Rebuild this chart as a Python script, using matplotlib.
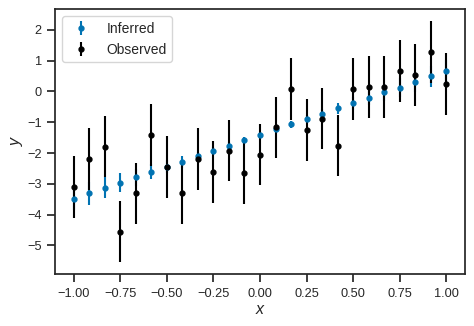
import numpy as np
import matplotlib
matplotlib.use("Agg")
import matplotlib.pyplot as plt
import seaborn as sns

# values
x = np.linspace(-1, 1, 25)

y_inferred = [-3.48, -3.31, -3.12, -2.96, -2.79, -2.61, -2.45, -2.28, -2.11,
              -1.93, -1.76, -1.58, -1.41, -1.23, -1.07, -0.90, -0.72, -0.55,
              -0.39, -0.21, -0.03, 0.12, 0.31, 0.49, 0.65]
err_inferred = [0.37, 0.36, 0.33, 0.32, 0.28, 0.24, 0.21, 0.19, 0.16, 0.14,
                0.12, 0.11, 0.10, 0.11, 0.12, 0.14, 0.16, 0.19, 0.21, 0.24,
                0.27, 0.30, 0.32, 0.33, 0.36]

y_observed = [-3.11, -2.19, -1.79, -4.55, -3.31, -1.41, -2.46, -3.29, -2.19,
              -2.61, -1.92, -2.64, -2.05, -1.17, 0.07, -1.26, -0.88, -1.76,
              0.07, 0.14, 0.14, 0.66, 0.54, 1.28, 0.25]
err_observed = [1.0] * 25

sns.set_theme(style="ticks")
plt.rcParams['font.family'] = ['Liberation Sans', 'DejaVu Sans']

fig, ax = plt.subplots(figsize=(4.74, 3.26), dpi=100)
fig.subplots_adjust(left=0.116, right=0.981, top=0.972, bottom=0.158)

ax.errorbar(x, y_inferred, yerr=err_inferred, fmt='o', ms=3.5,
            color='#0173B2', elinewidth=1.5, label='Inferred')
ax.errorbar(x, y_observed, yerr=err_observed, fmt='o', ms=3.5,
            color='black', elinewidth=1.5, label='Observed')

ax.set_xlabel('x', fontsize=11.5, style='italic', labelpad=2)
ax.set_ylabel('y', fontsize=11.5, style='italic', labelpad=2)
ax.tick_params(labelsize=9.2)
ax.legend(loc='upper left', fontsize=10)

fig.savefig('out.png', dpi=100)
